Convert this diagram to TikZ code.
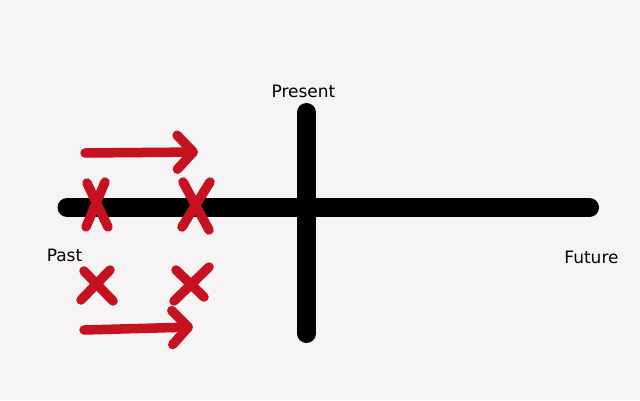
\documentclass[tikz,border=0pt]{standalone}
\usepackage{fontspec}
\setmainfont{DejaVu Sans}
\usetikzlibrary{arrows.meta, positioning}
\definecolor{paper}{RGB}{245,243,243}
\definecolor{markred}{RGB}{198,18,32}

\begin{document}
\begin{tikzpicture}[x=1pt, y=1pt]


        % Setup the styles for the lines and labels
        \tikzset{axis style/.style={line width=19pt, line cap=round, black},
                 cross style/.style={line width=9.5pt, line cap=round, markred},
                 move style/.style={line width=9.5pt, line cap=round, markred,
                                    -{Straight Barb[round, length=16pt, width=34pt]}},
                 label style/.style={font=\fontsize{17}{20}\selectfont,
                                     inner sep=0pt, anchor=base}}

% Background
\fill[paper] (0,0) rectangle (640,400);
\useasboundingbox (0,0) rectangle (640,400);

% Add the labels
\node[label style] at (303.5,303) (present) {Present};
\node[label style] at (64.5,139) (past) {Past};
\node[label style] at (591.5,137) (future) {Future};

% Add the time line
\coordinate (start) at (67,192.5);
\coordinate (end) at (589.5,192.5);
\coordinate (top) at (306.5,287.5);
\coordinate (bottom) at (306.5,66.5);

	 \draw[axis style] (start) -- (end);
	 \draw[axis style] (top) -- (bottom);

% Add the crosses
\coordinate (a1) at (87,217);  \coordinate (a2) at (108,173);
\coordinate (a3) at (105,218); \coordinate (a4) at (86,173);
\coordinate (b1) at (183,218); \coordinate (b2) at (209,170);
\coordinate (b3) at (210,218); \coordinate (b4) at (182,173);
\coordinate (c1) at (84,129);  \coordinate (c2) at (113,99);
\coordinate (c3) at (110,130); \coordinate (c4) at (81,100);
\coordinate (d1) at (176,130); \coordinate (d2) at (204,103);
\coordinate (d3) at (209,133); \coordinate (d4) at (174,99);

	 \draw[cross style]
	  (a1) -- (a2) (a3) -- (a4)
		(b1) -- (b2) (b3) -- (b4)
		(c1) -- (c2) (c3) -- (c4)
		(d1) -- (d2) (d3) -- (d4);

% Add the arrows
\coordinate (upper from) at (85,247);
\coordinate (upper to) at (198,248);
\coordinate (lower from) at (84,70);
\coordinate (lower to) at (193,73);

	 \draw[move style] (upper from) -- (upper to);
	 \draw[move style] (lower from) -- (lower to);
\end{tikzpicture}
\end{document}
